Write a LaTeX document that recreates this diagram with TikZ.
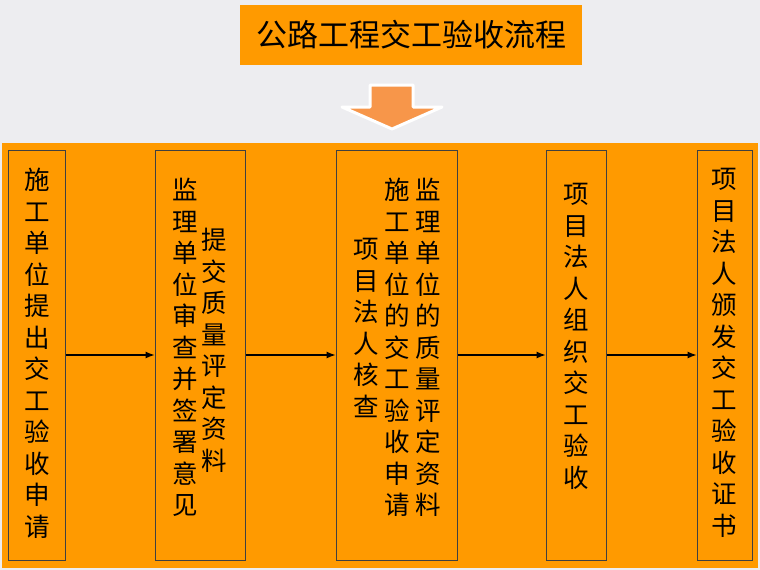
\documentclass[tikz,border=0pt]{standalone}
\usepackage{fontspec}
\usetikzlibrary{arrows.meta}
\newfontfamily\cjk{Noto Sans CJK SC}
\definecolor{org}{HTML}{FF9A00}
\definecolor{arr}{HTML}{F7964A}
\definecolor{bg}{HTML}{EDEDF0}
\begin{document}
\begin{tikzpicture}[x=1pt,y=-1pt,
  vbox/.style={draw=black!75,line width=1pt,fill=org},
  vtxt/.style={anchor=north,align=center,inner sep=0pt,font=\cjk\fontsize{25.5}{31.5}\selectfont},
  conn/.style={-{Latex[length=9pt,width=7pt]},line width=1.1pt}]
\useasboundingbox (0,0) rectangle (760,570);
\fill[bg] (0,0) rectangle (760,570);
\node[fill=org,minimum width=342,minimum height=60,inner sep=0,font=\cjk\fontsize{31}{34}\selectfont] (title) at (411,35) {公路工程交工验收流程};
\draw[white,line width=3pt,fill=arr,line join=round] (370,85) -- (413,85) -- (413,107) -- (442,107) -- (392,129) -- (342,107) -- (370,107) -- cycle;
\fill[org] (2,143) rectangle (758,568);
\node[vbox,minimum width=57,minimum height=410,inner sep=0] (b1) at (36.5,355) {};
\node[vbox,minimum width=90,minimum height=410,inner sep=0] (b2) at (200,355) {};
\node[vbox,minimum width=121,minimum height=410,inner sep=0] (b3) at (396.5,355) {};
\node[vbox,minimum width=60,minimum height=410,inner sep=0] (b4) at (576,355) {};
\node[vbox,minimum width=55,minimum height=410,inner sep=0] (b5) at (724.5,355) {};
\node[vtxt] (t1) at (37,168) {施\\工\\单\\位\\提\\出\\交\\工\\验\\收\\申\\请};
\node[vtxt] (t2a) at (185,178) {监\\理\\单\\位\\审\\查\\并\\签\\署\\意\\见};
\node[vtxt] (t2b) at (214,228) {提\\交\\质\\量\\评\\定\\资\\料};
\node[vtxt] (t3a) at (366,238) {项\\目\\法\\人\\核\\查};
\node[vtxt] (t3b) at (397,178) {施\\工\\单\\位\\的\\交\\工\\验\\收\\申\\请};
\node[vtxt] (t3c) at (428,178) {监\\理\\单\\位\\的\\质\\量\\评\\定\\资\\料};
\node[vtxt] (t4) at (576,183) {项\\目\\法\\人\\组\\织\\交\\工\\验\\收};
\node[vtxt] (t5) at (724,168) {项\\目\\法\\人\\颁\\发\\交\\工\\验\\收\\证\\书};
\draw[conn] (b1.east) -- (b2.west);
\draw[conn] (b2.east) -- (b3.west);
\draw[conn] (b3.east) -- (b4.west);
\draw[conn] (b4.east) -- (b5.west);
\end{tikzpicture}
\end{document}
